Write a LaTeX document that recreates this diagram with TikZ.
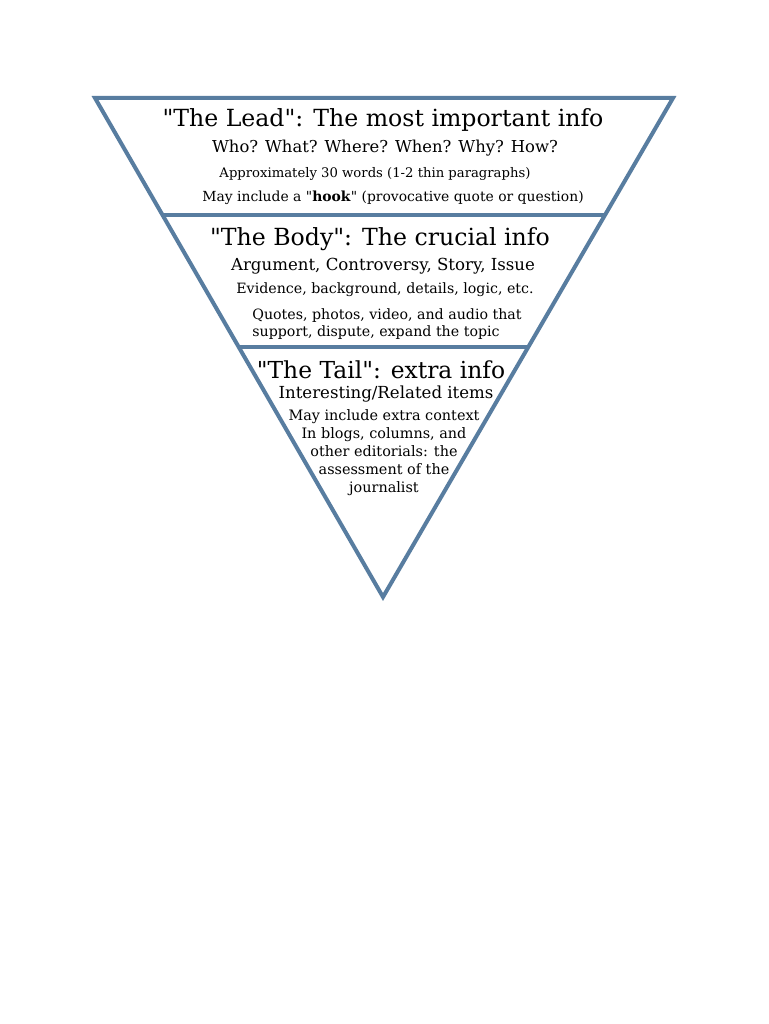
\documentclass[tikz,border=0pt]{standalone}
\usepackage{fontspec}
\setmainfont{DejaVu Serif}[Ligatures=TeXOff]
\usetikzlibrary{calc}
\definecolor{frame}{RGB}{88,125,160}
\begin{document}
\begin{tikzpicture}[x=1pt,y=-1pt,
  edge/.style={draw=frame,line width=4pt,line join=miter},
  txt/.style={inner sep=0pt,anchor=center,text=black,align=center},
  hd/.style={txt,font=\fontsize{23.6}{27}\selectfont},
  sub/.style={txt,font=\fontsize{16.6}{19}\selectfont},
  sm/.style={txt,font=\fontsize{14.2}{17}\selectfont}]
\fill[white] (0,0) rectangle (768,1024);
\useasboundingbox (0,0) rectangle (768,1024);
\coordinate (A) at (95,98);
\coordinate (B) at (673,98);
\coordinate (C) at (383,597);
\coordinate (L1) at ($(A)!0.2345!(C)$);
\coordinate (R1) at ($(B)!0.2345!(C)$);
\coordinate (L2) at ($(A)!0.499!(C)$);
\coordinate (R2) at ($(B)!0.499!(C)$);
\draw[edge] (A) -- (B) -- (C) -- cycle;
\draw[edge] (L1) -- (R1);
\draw[edge] (L2) -- (R2);
% Lead
\node[hd] (lead) at (383,120) {"The Lead": The most important info};
\node[sub,font=\fontsize{16.4}{19}\selectfont] (who) at (385,148) {Who? What? Where? When? Why? How?};
\node[sm,font=\fontsize{13.2}{17}\selectfont] (approx) at (375,174) {Approximately 30 words (1-2 thin paragraphs)};
\node[sm,font=\fontsize{13.9}{17}\selectfont] (hook) at (393,198) {May include a "\textbf{hook}" (provocative quote or question)};
% Body
\node[hd] (body) at (380,239) {"The Body": The crucial info};
\node[sub] (arg) at (383,266) {Argument, Controversy, Story, Issue};
\node[sm] (evid) at (385,290) {Evidence, background, details, logic, etc.};
\node[sm,align=left] (quotes) at (387,324) {Quotes, photos, video, and audio that\\support, dispute, expand the topic};
% Tail
\node[hd,font=\fontsize{23.4}{27}\selectfont] (tail) at (381,370) {"The Tail": extra info};
\node[sub] (inter) at (386,394) {Interesting/Related items};
\node[txt,font=\fontsize{14.4}{18}\selectfont] (extra) at (384,453) {May include extra context\\In blogs, columns, and\\other editorials: the\\assessment of the\\journalist};
\end{tikzpicture}
\end{document}
